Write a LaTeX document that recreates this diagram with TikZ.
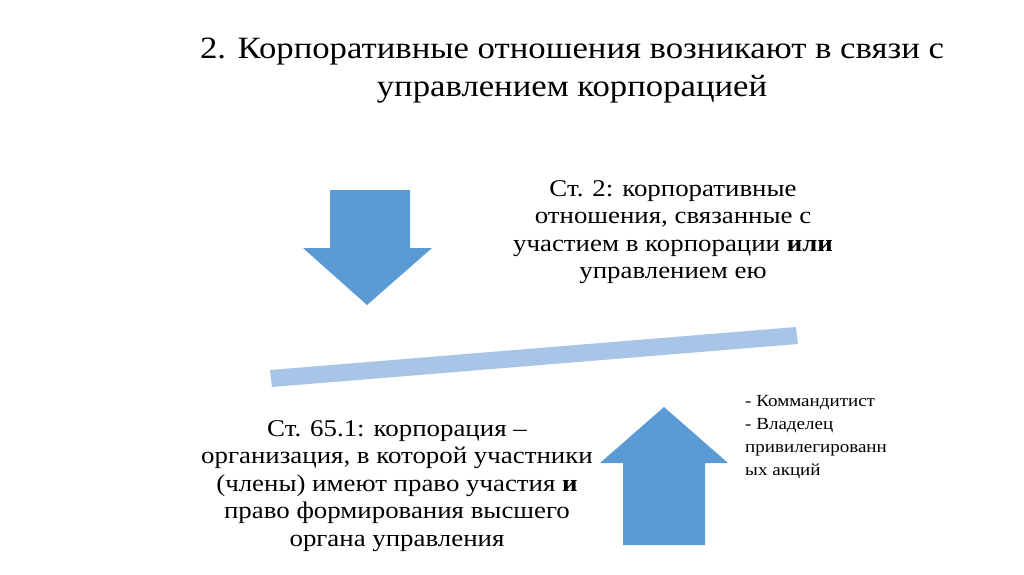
\documentclass[tikz,border=0pt]{standalone}
\usepackage{fontspec}
\setmainfont{Liberation Serif}
\definecolor{arr}{HTML}{5B9BD5}
\definecolor{bar}{HTML}{A8C4E6}
\begin{document}
\begin{tikzpicture}[x=1pt,y=-1pt,
  body/.style={align=center,font=\fontsize{24}{27.5}\selectfont,inner sep=0pt,xscale=1.12},
  side/.style={align=left,font=\fontsize{17}{23}\selectfont,inner sep=0pt,anchor=north west,xscale=1.12}]
\useasboundingbox (0,0) rectangle (1024,574);
\node[align=center,font=\fontsize{31}{38}\selectfont,inner sep=0pt,xscale=1.12] (title) at (572,71)
 {2. Корпоративные отношения возникают в связи с\\ управлением корпорацией};
\fill[arr] (330,190) -- (410,190) -- (410,248) -- (432,248) -- (367,305) -- (303,248) -- (330,248) -- cycle;
\fill[bar] (270,370) -- (796,327) -- (798,344) -- (272,387) -- cycle;
\fill[arr] (623,545) -- (705,545) -- (705,463) -- (728,463) -- (664,407) -- (600,463) -- (623,463) -- cycle;
\node[body] (st2) at (673,232) {Ст. 2: корпоративные\\ отношения, связанные с\\ участием в корпорации \textbf{или}\\ управлением ею};
\node[body] (st65) at (397,486) {Ст. 65.1: корпорация –\\ организация, в которой участники\\ (члены) имеют право участия \textbf{и}\\ право формирования высшего\\ органа управления};
\node[side] (side) at (745,395) {- Коммандитист\\ - Владелец\\ привилегированн\\ ых акций};
\end{tikzpicture}
\end{document}
